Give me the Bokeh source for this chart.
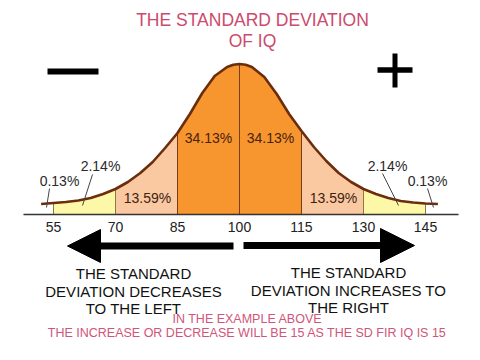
from bokeh.plotting import figure
from bokeh.models import Range1d, Arrow, NormalHead
from bokeh.core.properties import value
from bokeh.embed import file_html
from bokeh.resources import INLINE

# ---- data ----
iq = [52, 55, 58, 61, 64, 67, 70, 73, 76, 79, 82, 85, 88, 91, 94, 97, 98.5, 100,
      101.5, 103, 106, 109, 112, 115, 118, 121, 124, 127, 130, 133, 136, 139, 142, 145, 148]
curve_height = [10, 11, 12, 13.5, 16, 20, 25, 32, 41, 52, 66, 81, 100, 121, 138, 147, 149.3, 150,
                149.3, 147, 137, 120, 100, 83, 67, 53, 41, 32, 25, 20, 16, 13, 11.5, 10.5, 10]
band_edges = [55, 70, 85, 100, 115, 130, 145]
band_colors = ["#fcf8a8", "#fbc9a1", "#f7952f", "#f7952f", "#fbc9a1", "#fcf8a8"]
band_labels = ["2.14%", "13.59%", "34.13%", "34.13%", "13.59%", "2.14%"]
tail_labels = ["0.13%", "0.13%"]
tick_labels = ["55", "70", "85", "100", "115", "130", "145"]

title_lines = ["THE STANDARD DEVIATION", "OF IQ"]
left_text = ["THE STANDARD", "DEVIATION DECREASES", "TO THE LEFT"]
right_text = ["THE STANDARD", "DEVIATION INCREASES TO", "THE RIGHT"]
note_lines = ["IN THE EXAMPLE ABOVE",
              "THE INCREASE OR DECREASE WILL BE 15 AS THE SD FIR IQ IS 15"]

# ---- layout helpers (pixel positions -> data) ----
W, H = 480, 360
PX = 62 / 15.0          # pixels per IQ point
X0 = 100 - 239 / PX
BASE = 213.5            # screen y of baseline


def dx(px):
    return X0 + px / PX


def dy(py):
    return BASE - py


FONT = value("Liberation Sans")

p = figure(width=W, height=H, output_backend="svg", toolbar_location=None,
           x_range=Range1d(X0, X0 + W / PX), y_range=Range1d(BASE - H, BASE),
           min_border=0, outline_line_color=None)
p.axis.visible = False
p.grid.visible = False
p.background_fill_color = "white"
p.border_fill_color = "white"

hmap = dict(zip(iq, curve_height))

# filled bands
for i in range(len(band_edges) - 1):
    a, b = band_edges[i], band_edges[i + 1]
    xs = [x for x in iq if a <= x <= b]
    ys = [hmap[x] for x in xs]
    p.varea(x=xs, y1=[0] * len(xs), y2=ys, fill_color=band_colors[i])

# band dividers
for e in band_edges:
    col = "#7a3d12" if 85 <= e <= 115 else "#8c7a45"
    p.segment(x0=[e], y0=[0], x1=[e], y1=[hmap[e]], line_color=col, line_width=1)

# curve
p.line(iq, curve_height, line_color="#6b2d0c", line_width=2.6, line_join="round")

# axis line and tick labels
p.segment(x0=[dx(23)], y0=[dy(214)], x1=[dx(458)], y1=[dy(214)],
          line_color="#333333", line_width=1.5)
p.text(x=[float(t) for t in tick_labels], y=[dy(226)] * len(tick_labels), text=tick_labels,
       text_font=FONT, text_font_size="14px", text_color="#222222",
       text_align="center", text_baseline="middle")

# band percentage labels
lab_px = [100, 147, 208, 270, 333, 387]
lab_py = [165, 197, 137, 137, 197, 165]
lab_col = ["#2a2a2a", "#3b2314", "#4a220c", "#4a220c", "#3b2314", "#2a2a2a"]
for t, xx, yy, c in zip(band_labels, lab_px, lab_py, lab_col):
    p.text(x=[dx(xx)], y=[dy(yy)], text=[t], text_font=FONT, text_font_size="14px",
           text_color=c, text_align="center", text_baseline="middle")
for t, xx in zip(tail_labels, [59, 427]):
    p.text(x=[dx(xx)], y=[dy(180)], text=[t], text_font=FONT, text_font_size="14px",
           text_color="#2a2a2a", text_align="center", text_baseline="middle")

# leader lines
lead = [((49, 188), (46, 207)), ((92, 174), (82, 205)),
        ((382, 173), (398, 205)), ((427, 188), (433, 207))]
for (a, b) in lead:
    p.segment(x0=[dx(a[0])], y0=[dy(a[1])], x1=[dx(b[0])], y1=[dy(b[1])],
              line_color="#444444", line_width=1)

# minus and plus signs
p.segment(x0=[dx(47)], y0=[dy(71)], x1=[dx(98)], y1=[dy(71)], line_color="black", line_width=6)
p.segment(x0=[dx(377)], y0=[dy(69.5)], x1=[dx(412)], y1=[dy(69.5)], line_color="black", line_width=5.5)
p.segment(x0=[dx(394.5)], y0=[dy(53)], x1=[dx(394.5)], y1=[dy(87)], line_color="black", line_width=5)

# title
for t, yy in zip(title_lines, [19, 40]):
    p.text(x=[dx(252)], y=[dy(yy)], text=[t], text_font=FONT, text_font_size="17.5px",
           text_color="#cc4a6c", text_align="center", text_baseline="middle")

# arrows
p.add_layout(Arrow(x_start=dx(233), y_start=dy(245.5), x_end=dx(67), y_end=dy(245.5),
                   line_width=7, line_color="black",
                   end=NormalHead(size=33, fill_color="black", line_color="black", line_width=1)))
p.add_layout(Arrow(x_start=dx(243), y_start=dy(245), x_end=dx(414), y_end=dy(245),
                   line_width=7, line_color="black",
                   end=NormalHead(size=34, fill_color="black", line_color="black", line_width=1)))

# explanatory text
for t, yy in zip(left_text, [273, 291, 308]):
    p.text(x=[dx(133)], y=[dy(yy)], text=[t], text_font=FONT, text_font_size="15px",
           text_color="#111111", text_align="center", text_baseline="middle")
for t, yy in zip(right_text, [272, 290, 307]):
    p.text(x=[dx(348)], y=[dy(yy)], text=[t], text_font=FONT, text_font_size="15px",
           text_color="#111111", text_align="center", text_baseline="middle")
for t, yy in zip(note_lines, [318, 332]):
    p.text(x=[dx(247)], y=[dy(yy)], text=[t], text_font=FONT, text_font_size="12.5px",
           text_color="#d0557a", text_align="center", text_baseline="middle")

open("out.html", "w").write(file_html(p, INLINE))
